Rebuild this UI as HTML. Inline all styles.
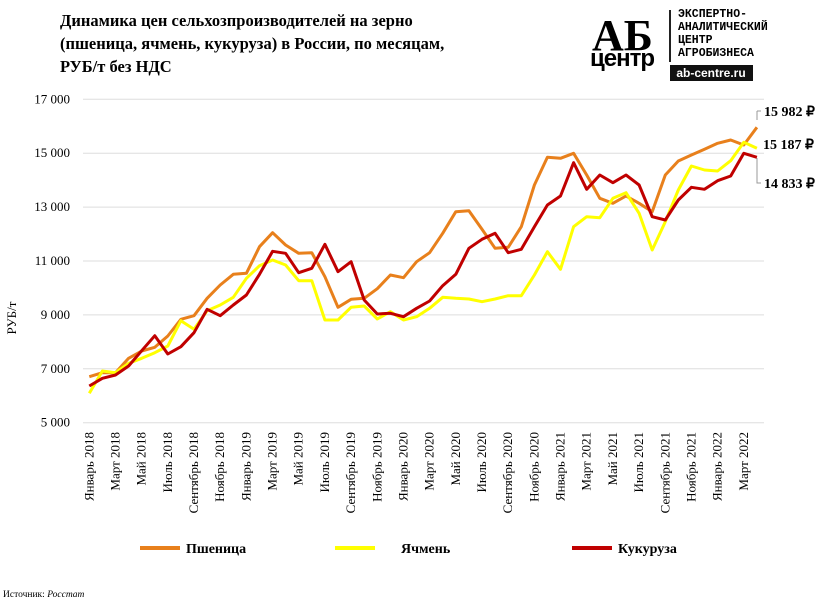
<!DOCTYPE html>
<html><head><meta charset="utf-8">
<style>
body{margin:0;background:#fff;width:825px;height:600px;overflow:hidden;font-family:"Liberation Serif",serif;}
</style></head>
<body>
<svg id="s" width="825" height="600" xmlns="http://www.w3.org/2000/svg" font-family="Liberation Serif, serif">
<text x="60" y="26" font-size="16.5" font-weight="bold">Динамика цен сельхозпроизводителей  на зерно</text>
<text x="60" y="49" font-size="16.5" font-weight="bold">(пшеница, ячмень, кукуруза)  в России, по месяцам,</text>
<text x="60" y="72" font-size="16.5" font-weight="bold">РУБ/т без НДС</text>
<!-- logo -->
<text x="592" y="50" font-size="44" font-weight="bold" font-family="Liberation Serif,serif">АБ</text>
<text x="590" y="66" font-size="24" font-weight="bold" font-family="Liberation Sans,sans-serif" letter-spacing="-1">центр</text>
<rect x="669" y="10" width="2" height="52" fill="#222"/>
<g font-family="Liberation Mono,monospace" font-weight="bold" font-size="11.5">
<text x="678" y="17">ЭКСПЕРТНО-</text><text x="678" y="30">АНАЛИТИЧЕСКИЙ</text><text x="678" y="43">ЦЕНТР</text><text x="678" y="56">АГРОБИЗНЕСА</text></g>
<rect x="670" y="65" width="83" height="16" fill="#111"/>
<text x="711" y="77" font-size="12" fill="#fff" text-anchor="middle" font-family="Liberation Sans,sans-serif" font-weight="bold">ab-centre.ru</text>
<g id="grid"></g>
<g id="ylab" font-size="13" text-anchor="end"></g>
<text transform="translate(16,318) rotate(-90)" font-size="13" text-anchor="middle">РУБ/т</text>
<g id="xlab" font-size="13"></g>
<g id="lines" fill="none" stroke-width="3" stroke-linejoin="round"></g>
<path d="M757,111 V120 M761,111 H757 M757,158 V183 H761" stroke="#999" fill="none"/>
<g font-size="14" font-weight="bold">
<text x="764" y="116">15 982 ₽</text><text x="763" y="149">15 187 ₽</text><text x="764" y="188">14 833 ₽</text></g>
<g font-size="14" font-weight="bold">
<line x1="140" y1="548" x2="180" y2="548" stroke="#E8801C" stroke-width="4"/><text x="186" y="553">Пшеница</text>
<line x1="335" y1="548" x2="375" y2="548" stroke="#FFFF00" stroke-width="4"/><text x="401" y="553">Ячмень</text>
<line x1="572" y1="548" x2="612" y2="548" stroke="#C00000" stroke-width="4"/><text x="618" y="553">Кукуруза</text></g>
<text x="3" y="597" font-size="9.5">Источник: <tspan font-style="italic">Росстат</tspan></text>
</svg>
<script>
var ns="http://www.w3.org/2000/svg";
function el(p,t,a,tx){var e=document.createElementNS(ns,t);for(var k in a)e.setAttribute(k,a[k]);if(tx)e.textContent=tx;document.getElementById(p).appendChild(e);}
for(var i=0;i<7;i++){var y=99.3+i*53.9;el("grid","line",{x1:83,x2:764,y1:y,y2:y,stroke:"#ddd","stroke-width":1});
el("ylab","text",{x:70,y:y+4},(17-2*i)+" 000");}
var m=["Январь","Март","Май","Июль","Сентябрь","Ноябрь"];
for(var i=0;i<51;i+=2){var x=89.3+13.09*i+4;var yr=2018+Math.floor(i/12);
el("xlab","text",{transform:"translate("+x+",432) rotate(-90)","text-anchor":"end"},m[(i%12)/2]+" "+yr);}
var O=[860,848,848,805,783,772,738,688,677,625,585,553,550,470,428,465,490,488,560,652,628,625,596,555,563,515,488,430,365,362,418,475,472,410,285,202,205,190,255,325,340,318,340,365,255,213,195,178,160,150,165,112];
var Y=[910,843,848,820,805,788,768,692,718,662,645,622,565,527,510,525,572,572,690,690,652,648,687,665,690,680,655,622,625,627,635,627,617,617,555,485,538,410,380,383,325,308,370,480,395,300,228,240,243,212,157,175];
var R=[888,865,855,828,782,737,792,770,728,658,677,645,615,553,484,490,548,535,463,545,515,630,672,670,680,655,633,587,553,475,448,430,488,478,410,345,318,218,298,255,278,255,285,380,390,330,292,298,272,258,190,202];
function pl(d,c){var p=d.map(function(v,i){return (89.3+13.09*i).toFixed(1)+","+(90+v/3).toFixed(1)}).join(" ");el("lines","polyline",{points:p,stroke:c});}
pl(O,"#E8801C");pl(Y,"#FFFF00");pl(R,"#C00000");
</script>
</body></html>
